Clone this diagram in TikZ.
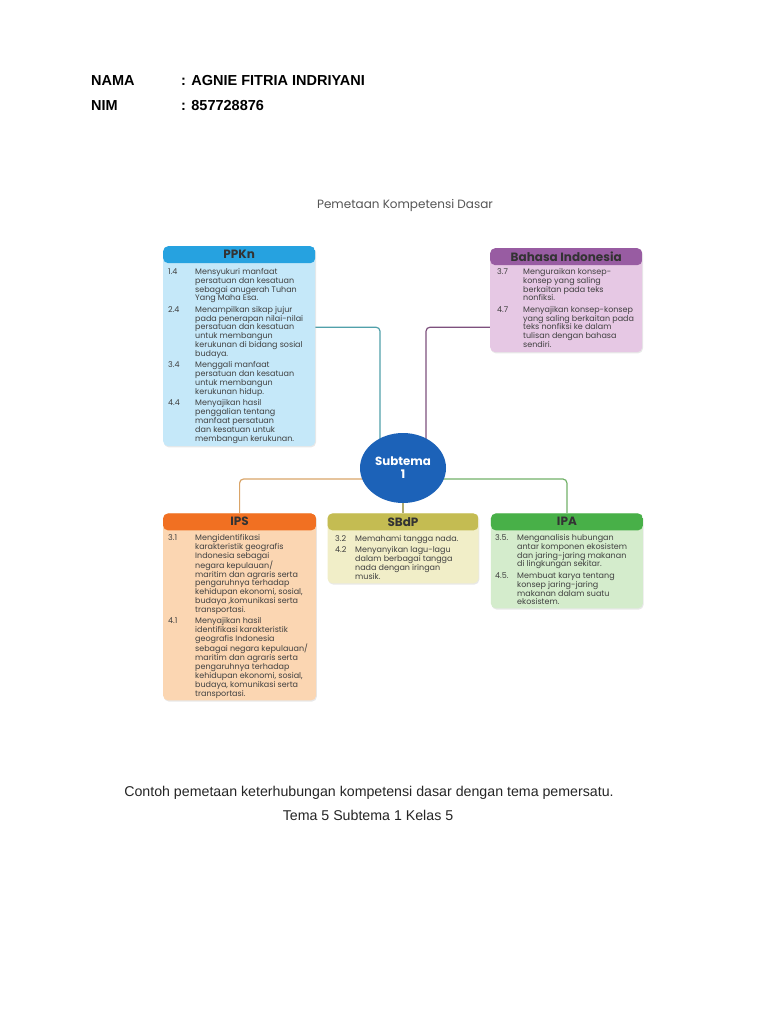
\documentclass[tikz,border=0pt]{standalone}
\usepackage{fontspec}
\setmainfont{Liberation Sans}
\newfontfamily\kdfont{Poppins}
\usepackage{tikz}
\usetikzlibrary{positioning,shapes.geometric,shadows,backgrounds}
\definecolor{ppknhead}{RGB}{38,162,224}
\definecolor{ppknbody}{RGB}{197,232,249}
\definecolor{ppknline}{RGB}{80,160,170}
\definecolor{bindohead}{RGB}{152,92,162}
\definecolor{bindobody}{RGB}{230,200,228}
\definecolor{bindoline}{RGB}{125,80,125}
\definecolor{ipshead}{RGB}{241,112,34}
\definecolor{ipsbody}{RGB}{251,214,178}
\definecolor{ipsline}{RGB}{218,165,105}
\definecolor{sbdphead}{RGB}{196,188,82}
\definecolor{sbdpbody}{RGB}{241,238,200}
\definecolor{sbdpline}{RGB}{175,170,110}
\definecolor{ipahead}{RGB}{72,176,72}
\definecolor{ipabody}{RGB}{212,236,204}
\definecolor{ipaline}{RGB}{115,178,105}
\definecolor{subblue}{RGB}{28,98,184}
\definecolor{titlegray}{RGB}{85,85,85}
\tikzset{
  kdbox/.style={rectangle, rounded corners=5pt, anchor=north west, inner sep=0pt,
    drop shadow={opacity=0.18, shadow xshift=0.8pt, shadow yshift=-1.2pt}},
  kdhead/.style={path picture={\fill[#1] (path picture bounding box.north west)
    rectangle ([yshift=-17pt]path picture bounding box.north east);}},
  headtext/.style={font=\kdfont\fontsize{12}{13}\selectfont\bfseries, text=black!80, inner sep=0pt},
  kdtext/.style={font=\kdfont\fontsize{8}{8.85}\selectfont, text=black!75,
    anchor=north west, inner sep=0pt},
  link/.style={line width=1.2pt, rounded corners=4pt},
  nametext/.style={font=\fontsize{14.5}{16}\selectfont\bfseries, anchor=base west, inner sep=0pt},
  captext/.style={font=\fontsize{14.2}{16}\selectfont, text=black!85, anchor=base, inner sep=0pt}
}

\begin{document}
\begin{tikzpicture}[x=1pt, y=-1pt]
\useasboundingbox (0,0) rectangle (768,1024);

% identitas
\node[nametext] (nama) at (91,86) {NAMA};
\node[nametext] (namaisi) at (181,86) {: AGNIE FITRIA INDRIYANI};
\node[nametext] (nim) at (91,111) {NIM};
\node[nametext] (nimisi) at (181,111) {: 857728876};

\node[font=\kdfont\fontsize{12}{14}\selectfont, text=titlegray] (judul) at (405,205)
{Pemetaan Kompetensi Dasar};

% kotak mapel
\node[kdbox, fill=ppknbody, kdhead=ppknhead, minimum width=152, minimum height=200] (ppkn) at (163,246) {};
\node[kdbox, fill=bindobody, kdhead=bindohead, minimum width=152, minimum height=104] (bindo) at (490,248) {};
\node[ellipse, fill=subblue, minimum width=86, minimum height=70, inner sep=0pt,
  font=\kdfont\fontsize{11.8}{13}\selectfont\bfseries, text=white, align=center] (sub) at (403,468) {Subtema\\1};
\node[kdbox, fill=sbdpbody, kdhead=sbdphead, minimum width=151, minimum height=70,
  below=10pt of sub.south, anchor=north] (sbdp) {};
\node[kdbox, fill=ipsbody, kdhead=ipshead, minimum width=153, minimum height=187,
  left=11pt of sbdp.north west, anchor=north east] (ips) {};
\node[kdbox, fill=ipabody, kdhead=ipahead, minimum width=152, minimum height=95,
  right=12pt of sbdp.north east, anchor=north west] (ipa) {};

% garis penghubung
\begin{scope}[on background layer]
\fill[white] (0,0) rectangle (768,1024);
\draw[link, ppknline] ([xshift=-23pt]sub.center) |- ([yshift=19pt]ppkn.east);
\draw[link, bindoline] ([xshift=23pt]sub.center) |- ([yshift=-27pt]bindo.west);
\draw[link, ipsline] ([yshift=-11pt]sub.center) -| (ips.north);
\draw[link, ipaline] ([yshift=-11pt]sub.center) -| (ipa.north);
\draw[link, sbdpline] (sub.center) -- (sbdp.north);
\end{scope}

% judul kotak
\node[headtext] (ppknjudul) at ([yshift=-8.5pt]ppkn.north) {PPKn};
\node[headtext] (bindojudul) at ([yshift=-8.5pt]bindo.north) {Bahasa Indonesia};
\node[headtext] (ipsjudul) at ([yshift=-8.5pt]ips.north) {IPS};
\node[headtext] (sbdpjudul) at ([yshift=-8.5pt]sbdp.north) {SBdP};
\node[headtext] (ipajudul) at ([yshift=-8.5pt]ipa.north) {IPA};

% isi kompetensi
\node[kdtext] (ppknisi) at (168,268) {\begin{tabular}{@{}p{27pt}@{}l@{}}
1.4 & Mensyukuri manfaat\\ & persatuan dan kesatuan\\ & sebagai anugerah Tuhan\\ & Yang Maha Esa.\\[2.5pt]
2.4 & Menampilkan sikap jujur\\ & pada penerapan nilai-nilai\\ & persatuan dan kesatuan\\ & untuk membangun\\ & kerukunan di bidang sosial\\ & budaya.\\[2.5pt]
3.4 & Menggali manfaat\\ & persatuan dan kesatuan\\ & untuk membangun\\ & kerukunan hidup.\\[2.5pt]
4.4 & Menyajikan hasil\\ & penggalian tentang\\ & manfaat persatuan\\ & dan kesatuan untuk\\ & membangun kerukunan.
\end{tabular}};
\node[kdtext] (bindoisi) at (497,268) {\begin{tabular}{@{}p{26pt}@{}l@{}}
3.7 & Menguraikan konsep-\\ & konsep yang saling\\ & berkaitan pada teks\\ & nonfiksi.\\[2.5pt]
4.7 & Menyajikan konsep-konsep\\ & yang saling berkaitan pada\\ & teks nonfiksi ke dalam\\ & tulisan dengan bahasa\\ & sendiri.
\end{tabular}};
\node[kdtext] (ipsisi) at (168,534) {\begin{tabular}{@{}p{27pt}@{}l@{}}
3.1 & Mengidentifikasi\\ & karakteristik geografis\\ & Indonesia sebagai\\ & negara kepulauan/\\ & maritim dan agraris serta\\ & pengaruhnya terhadap\\ & kehidupan ekonomi, sosial,\\ & budaya ,komunikasi serta\\ & transportasi.\\[2.5pt]
4.1 & Menyajikan hasil\\ & identifikasi karakteristik\\ & geografis Indonesia\\ & sebagai negara kepulauan/\\ & maritim dan agraris serta\\ & pengaruhnya terhadap\\ & kehidupan ekonomi, sosial,\\ & budaya, komunikasi serta\\ & transportasi.
\end{tabular}};
\node[kdtext] (sbdpisi) at (335,535) {\begin{tabular}{@{}p{20pt}@{}l@{}}
3.2 & Memahami tangga nada.\\[2.5pt]
4.2 & Menyanyikan lagu-lagu\\ & dalam berbagai tangga\\ & nada dengan iringan\\ & musik.
\end{tabular}};
\node[kdtext] (ipaisi) at (495,534) {\begin{tabular}{@{}p{22pt}@{}l@{}}
3.5. & Menganalisis hubungan\\ & antar komponen ekosistem\\ & dan jaring-jaring makanan\\ & di lingkungan sekitar.\\[2.5pt]
4.5. & Membuat karya tentang\\ & konsep jaring-jaring\\ & makanan dalam suatu\\ & ekosistem.
\end{tabular}};

% keterangan
\node[captext] (ket) at (369,796) {Contoh pemetaan keterhubungan kompetensi dasar dengan tema pemersatu.};
\node[captext] (tema) at (368,820) {Tema 5 Subtema 1 Kelas 5};
\end{tikzpicture}
\end{document}
